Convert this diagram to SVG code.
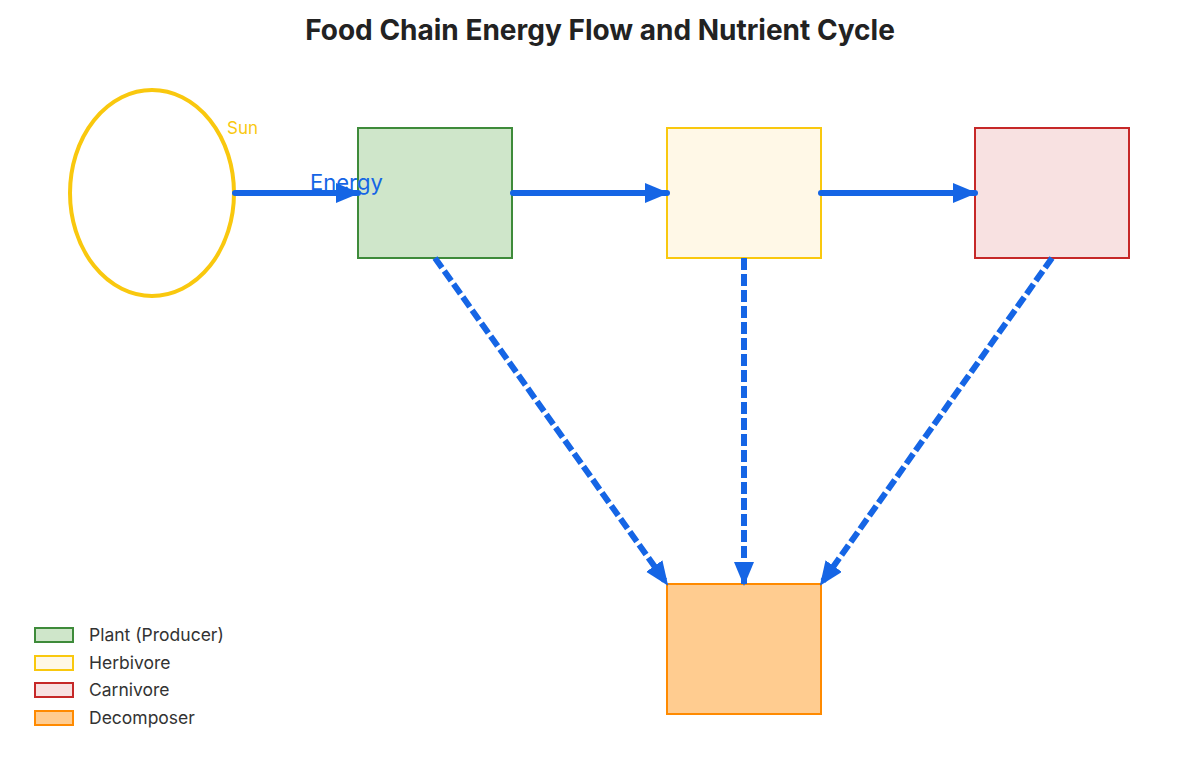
<svg xmlns="http://www.w3.org/2000/svg" width="1200" height="763" viewBox="0 0 1200 763">
<style>
text{font-family:Inter,"Liberation Sans",sans-serif}
.title{font-size:28px;font-weight:700;fill:#222}
.leg{font-size:17.5px;fill:#333}
.flow{stroke:#1565E5;stroke-width:6;fill:none;stroke-linecap:round}
.dash{stroke-dasharray:12 4;stroke-linecap:butt}
</style>
<defs>
<marker id="ah" markerUnits="userSpaceOnUse" markerWidth="24" markerHeight="22" refX="22" refY="10" orient="auto">
<path d="M0,0 L24,10 L0,20 Z" fill="#1565E5"/>
</marker>
</defs>
<rect width="1200" height="763" fill="#fff"/>
<text class="title" x="600" y="40" text-anchor="middle">Food Chain Energy Flow and Nutrient Cycle</text>
<g id="sun">
<ellipse cx="152" cy="193" rx="82" ry="103" fill="#fff" stroke="#F9C80E" stroke-width="4"/>
<text x="227" y="134" font-size="17" fill="#F9C80E">Sun</text>
</g>
<g id="plant"><rect x="358" y="128" width="154" height="130" fill="#CFE6CA" stroke="#3E8B3A" stroke-width="2"/></g>
<g id="herbivore"><rect x="667" y="128" width="154" height="130" fill="#FFF8E7" stroke="#F9C80E" stroke-width="2"/></g>
<g id="carnivore"><rect x="975" y="128" width="154" height="130" fill="#F8E1E1" stroke="#C62828" stroke-width="2"/></g>
<g id="decomposer"><rect x="667" y="584" width="154" height="130" fill="#FFCC90" stroke="#FF8A00" stroke-width="2"/></g>
<g id="connectors">
<line class="flow" x1="235" y1="193" x2="358" y2="193" marker-end="url(#ah)"/>
<line class="flow" x1="513" y1="193" x2="667" y2="193" marker-end="url(#ah)"/>
<line class="flow" x1="821" y1="193" x2="975" y2="193" marker-end="url(#ah)"/>
<line class="flow dash" x1="435" y1="258" x2="667" y2="584" marker-end="url(#ah)"/>
<line class="flow dash" x1="744" y1="258" x2="744" y2="584" marker-end="url(#ah)"/>
<line class="flow dash" x1="1052" y1="258" x2="821" y2="584" marker-end="url(#ah)"/>
<text x="310" y="190" font-size="22" fill="#1565E5">Energy</text>
</g>
<g id="legend">
<rect x="35" y="628" width="38" height="14" fill="#CFE6CA" stroke="#3E8B3A" stroke-width="2"/>
<text class="leg" x="89" y="641">Plant (Producer)</text>
<rect x="35" y="656" width="38" height="14" fill="#FFF8E7" stroke="#F9C80E" stroke-width="2"/>
<text class="leg" x="89" y="669">Herbivore</text>
<rect x="35" y="683" width="38" height="14" fill="#F8E1E1" stroke="#C62828" stroke-width="2"/>
<text class="leg" x="89" y="696">Carnivore</text>
<rect x="35" y="711" width="38" height="14" fill="#FFCC90" stroke="#FF8A00" stroke-width="2"/>
<text class="leg" x="89" y="724">Decomposer</text>
</g>
</svg>
